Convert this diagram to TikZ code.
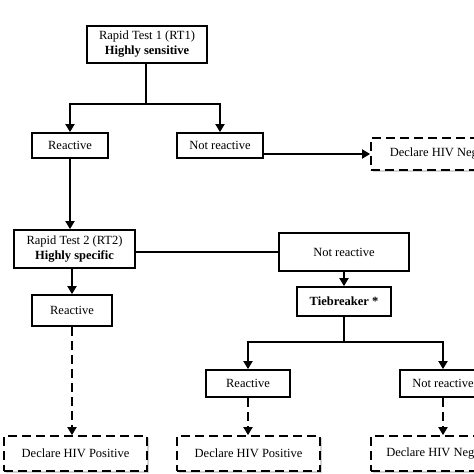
\documentclass[tikz,border=0pt]{standalone}
\usepackage{fontspec}
\setmainfont{Liberation Serif}
\usetikzlibrary{arrows.meta, shadows}
\tikzset{box/.style={draw,line width=1.8pt,fill=white,align=center,inner sep=2pt,font=\fontsize{12.5}{15}\selectfont},
         decl/.style={box,dashed,dash pattern=on 9pt off 5pt,drop shadow={opacity=0.35,shadow xshift=2pt,shadow yshift=-2pt}},
         link/.style={line width=1.8pt},
         arr/.style={link,-{Triangle[length=8pt,width=9pt]}},
         darr/.style={arr,dash pattern=on 9pt off 5pt}}

\begin{document}
\begin{tikzpicture}[x=1pt,y=-1pt]
        \useasboundingbox (0,0) rectangle (474,474);
        \clip (0,0) rectangle (474,474);
        % first test
        \node[box, minimum width=120pt, minimum height=37pt](rt1)at(147,44.5){Rapid Test 1 (RT1)\\\textbf{Highly sensitive}};
        \node[box, minimum width=76pt, minimum height=25pt](rea1)at(70,145.5){Reactive};
        \node[box, minimum width=86pt, minimum height=25pt](nre1)at(220,145.5){Not reactive};
        \node[decl, minimum width=150pt, minimum height=32pt](neg1)at(446,154){Declare HIV Negative};
        % second test
        \node[box, minimum width=121pt, minimum height=38pt](rt2)at(74.5,249){Rapid Test 2 (RT2)\\\textbf{Highly specific}};
        \node[box, minimum width=130pt, minimum height=38pt](nre2)at(344,252){Not reactive};
        \node[box, minimum width=80pt, minimum height=31pt](rea2)at(72,310.5){Reactive};
        \node[box, minimum width=94pt, minimum height=29pt](tie)at(344,301.5){\textbf{Tiebreaker *}};
        % tiebreaker
        \node[box, minimum width=84pt, minimum height=27pt](rea3)at(248,383.5){Reactive};
        \node[box, minimum width=86pt, minimum height=27pt](nre3)at(443,383.5){Not reactive};
        \node[decl, minimum width=143pt, minimum height=35pt](pos1)at(75.5,453.5){Declare HIV Positive};
        \node[decl, minimum width=143pt, minimum height=35pt](pos2)at(248.5,453.5){Declare HIV Positive};
        \node[decl, minimum width=143pt, minimum height=35pt](pos3)at(442.5,453.5){Declare HIV Negative};

        \coordinate(j1)at(146,104);
        \coordinate(j2)at(344,342);
        \draw[link](rt1.south -| j1)--(j1);
        \draw[arr](j1)-|(rea1.north);
        \draw[arr](j1)-|(nre1.north);
        \draw[arr](nre1.east |- neg1.west)--(neg1.west);
        \draw[arr](rea1.south)--(rea1.south |- rt2.north);
        \draw[link](rt2.east |- nre2.west)--(nre2.west);
        \draw[arr](rea2.north |- rt2.south)--(rea2.north);
        \draw[arr](nre2.south)--(tie.north);
        \draw[link](tie.south)--(j2);
        \draw[arr](j2)-|(rea3.north);
        \draw[arr](j2)-|(nre3.north);
        \draw[darr](rea2.south)--(rea2.south |- pos1.north);
        \draw[darr](rea3.south)--(rea3.south |- pos2.north);
        \draw[darr](nre3.south)--(nre3.south |- pos3.north);
    \end{tikzpicture}
\end{document}
